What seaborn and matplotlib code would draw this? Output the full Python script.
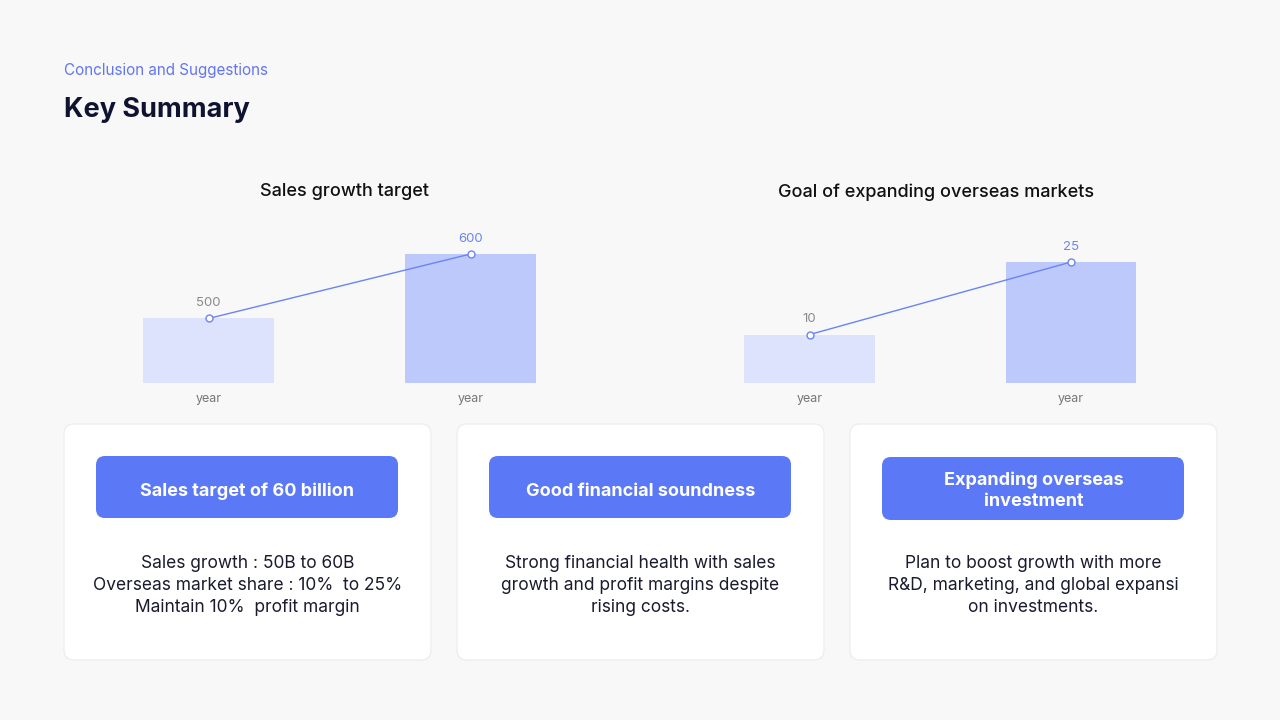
import numpy as np
import pandas as pd
import matplotlib
matplotlib.use("Agg")
import matplotlib.pyplot as plt
from matplotlib.patches import FancyBboxPatch
import seaborn as sns

# chart data
sales_periods = ["current", "target"]
sales_values = [500, 600]
overseas_periods = ["current", "target"]
overseas_values = [10, 25]
tick_labels = ["year", "year"]

chart_titles = ["Sales growth target", "Goal of expanding overseas markets"]

# card texts
card_heads = [
    ["Sales target of 60 billion"],
    ["Good financial soundness"],
    ["Expanding overseas", "investment"],
]
card_bodies = [
    ["Sales growth : 50B to 60B", "Overseas market share : 10%  to 25%", "Maintain 10%  profit margin"],
    ["Strong financial health with sales", "growth and profit margins despite", "rising costs."],
    ["Plan to boost growth with more", "R&D, marketing, and global expansi", "on investments."],
]

BG = "#f8f8f8"
BLUE = "#5b78f6"
LINE = "#6b84f5"
BAR_COLORS = ["#dde3fd", "#bdc8fb"]
NAVY = "#0f1330"

sns.set_theme(style="white")
plt.rcParams["font.family"] = ["Inter", "DejaVu Sans"]

W, H = 1280, 720
fig = plt.figure(figsize=(12.8, 7.2), dpi=100, facecolor=BG)

# full-figure overlay in pixel units for cards and headings
bg = fig.add_axes([0, 0, 1, 1], zorder=0)
bg.set_xlim(0, W)
bg.set_ylim(H, 0)
bg.axis("off")

bg.text(64, 71, "Conclusion and Suggestions", color="#6276f2", fontsize=11, va="center", ha="left")
bg.text(64, 110, "Key Summary", color=NAVY, fontsize=19.5, fontweight="bold", va="center", ha="left")

card_x = [64, 457, 850]
card_w = 367
for i, cx in enumerate(card_x):
    card = FancyBboxPatch((cx, 424), card_w, 236, boxstyle="round,pad=0,rounding_size=10",
                          facecolor="white", edgecolor="#eeeeee", linewidth=1)
    bg.add_patch(card)
    btn_top = 456 if len(card_heads[i]) == 1 else 457
    btn_h = 62 if len(card_heads[i]) == 1 else 63
    btn = FancyBboxPatch((cx + 32, btn_top), 302, btn_h, boxstyle="round,pad=0,rounding_size=9",
                         facecolor=BLUE, edgecolor="none")
    bg.add_patch(btn)
    mid = cx + card_w / 2
    heads = card_heads[i]
    if len(heads) == 1:
        bg.text(mid, 491, heads[0], color="white", fontsize=13, fontweight="bold", ha="center", va="center")
    else:
        for j, t in enumerate(heads):
            bg.text(mid, 480 + 21 * j, t, color="white", fontsize=13, fontweight="bold", ha="center", va="center")
    for j, t in enumerate(card_bodies[i]):
        bg.text(mid, 564 + 22 * j, t, color="#1a1b2e", fontsize=12.5, ha="center", va="center")


def draw_chart(rect, periods, values, ylim, title, title_x):
    ax = fig.add_axes(rect, zorder=2)
    ax.patch.set_alpha(0)
    df = pd.DataFrame({"period": periods, "value": values})
    sns.barplot(data=df, x="period", y="value", hue="period", palette=BAR_COLORS,
                width=0.5, legend=False, ax=ax, saturation=1, linewidth=0)
    sns.pointplot(data=df, x="period", y="value", color=LINE, errorbar=None, ax=ax,
                  markers="o", markersize=5, markerfacecolor="white", markeredgecolor=LINE,
                  markeredgewidth=1, linewidth=1)
    label_colors = ["#8a8a8a", LINE]
    for i, v in enumerate(values):
        ax.annotate(f"{v}", (i, v), xytext=(0, 11), textcoords="offset points",
                    ha="center", va="center", fontsize=9.5, color=label_colors[i])
    ax.set_xlim(-0.5, len(values) - 0.5)
    ax.set_ylim(*ylim)
    ax.set_xticks(range(len(values)))
    ax.set_xticklabels(tick_labels, fontsize=9, color="#777777")
    ax.tick_params(axis="x", length=0, pad=7.5)
    ax.set_yticks([])
    ax.set_xlabel("")
    ax.set_ylabel("")
    for s in ax.spines.values():
        s.set_visible(False)
    fig.text(title_x / W, 1 - 192 / H, title, fontsize=13, fontweight="medium",
             color="#111111", ha="center", va="center")
    return ax


ax_h = 163
bottom = 1 - 383 / H
draw_chart([77.5 / W, bottom, 524 / W, ax_h / H], sales_periods, sales_values,
           (400, 400 + ax_h / 0.645), chart_titles[0], 344)
draw_chart([678.75 / W, bottom, 523 / W, ax_h / H], overseas_periods, overseas_values,
           (0, ax_h / 4.84), chart_titles[1], 936)

fig.savefig("out.png", dpi=100, facecolor=BG)
